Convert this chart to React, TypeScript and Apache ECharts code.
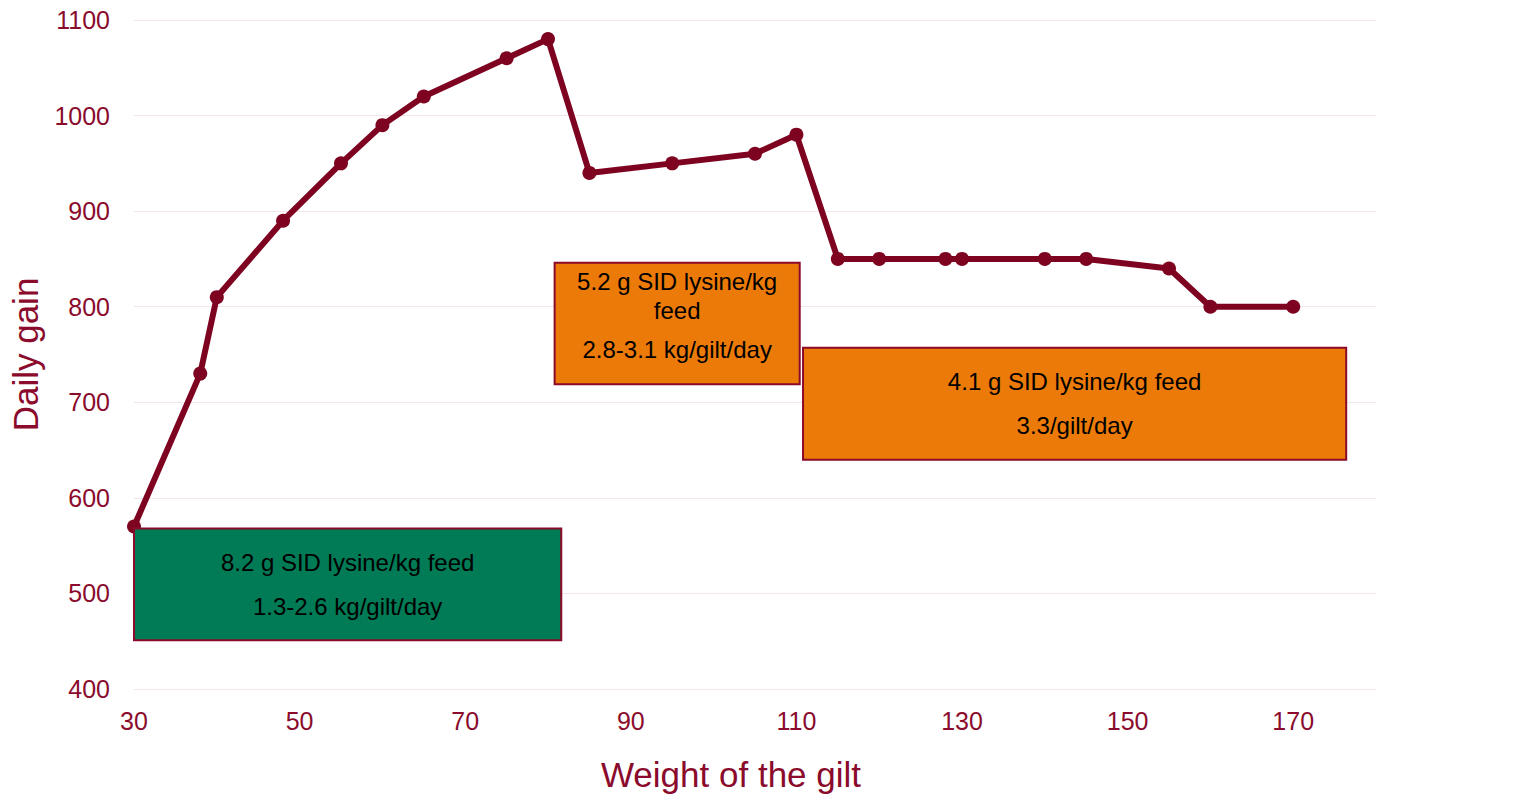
import * as echarts from 'echarts';
import { useEffect, useRef } from 'react';

// gilt weight (kg) and daily gain (g/day)
const weights = [30, 38, 40, 48, 55, 60, 65, 75, 80, 85, 95, 105, 110, 115, 120, 128, 130, 140, 145, 155, 160, 170];
const gains = [570, 730, 810, 890, 950, 990, 1020, 1060, 1080, 940, 950, 960, 980, 850, 850, 850, 850, 850, 850, 840, 800, 800];

// feeding phases drawn as boxes (data units)
const zoneWeights = [
  [29.6, 81.6],
  [80.8, 110.4],
  [110.8, 176.4]
];
const zoneGains = [
  [451, 568],
  [719, 846],
  [640, 757]
];
const zoneLysine = [['8.2 g SID lysine/kg feed'], ['5.2 g SID lysine/kg', 'feed'], ['4.1 g SID lysine/kg feed']];
const zoneIntake = ['1.3-2.6 kg/gilt/day', '2.8-3.1 kg/gilt/day', '3.3/gilt/day'];

const xTickLabels = [30, 50, 70, 90, 110, 130, 150, 170];

const WINE = '#7E0321';
const LABEL = '#8A0B2C';
const GRID = '#F4E5EA';
const FONT = '"Liberation Sans", Arial, sans-serif';
const zoneFills = ['#017B55', '#EC7A09', '#EC7A09'];

export default function App() {
  const elRef = useRef<HTMLDivElement | null>(null);

  useEffect(() => {
    if (!elRef.current) return;
    const chart = echarts.init(elRef.current, undefined, { renderer: 'svg' });

    const areas = zoneWeights.map((xs, i) => {
      const wrapped = zoneLysine[i].length > 1;
      const top = zoneLysine[i].map((t) => `{${wrapped ? 'a' : 'c'}|${t}}`).join('\n');
      const bottom = `{${wrapped ? 'b' : 'c'}|${zoneIntake[i]}}`;
      return [
        {
          xAxis: xs[0],
          yAxis: zoneGains[i][1],
          itemStyle: { color: zoneFills[i], borderColor: '#8B0A2A', borderWidth: 2, opacity: 1 },
          label: { offset: [0, wrapped ? -3 : 0], formatter: `${top}\n${bottom}` }
        },
        { xAxis: xs[1], yAxis: zoneGains[i][0] }
      ];
    });

    const textRich = { fontSize: 24, color: '#000', fontFamily: FONT };

    chart.setOption({
      animation: false,
      textStyle: { fontFamily: FONT },
      grid: { left: 134, right: 160, top: 20, bottom: 110, containLabel: false },
      xAxis: {
        type: 'value',
        min: 30,
        max: 180,
        interval: 10,
        name: 'Weight of the gilt',
        nameLocation: 'middle',
        nameGap: 68,
        nameTextStyle: { color: LABEL, fontSize: 35, fontFamily: FONT, padding: [0, 48, 0, 0] },
        axisLine: { lineStyle: { color: GRID, width: 1 } },
        axisTick: { show: false },
        splitLine: { show: false },
        axisLabel: {
          color: LABEL,
          fontSize: 25,
          margin: 19,
          fontFamily: FONT,
          formatter: (v: number) => (xTickLabels.includes(v) ? String(v) : '')
        }
      },
      yAxis: {
        type: 'value',
        min: 400,
        max: 1100,
        interval: 100,
        name: 'Daily gain',
        nameLocation: 'middle',
        nameGap: 90,
        nameTextStyle: { color: LABEL, fontSize: 35, fontFamily: FONT },
        axisLine: { show: false },
        axisTick: { show: false },
        splitLine: { lineStyle: { color: GRID, width: 1 } },
        axisLabel: {
          color: LABEL,
          fontSize: 25,
          margin: 24,
          fontFamily: FONT,
          formatter: (v: number) => String(v)
        }
      },
      series: [
        {
          type: 'line',
          data: weights.map((w, i) => [w, gains[i]]),
          clip: false,
          symbol: 'circle',
          symbolSize: 14,
          lineStyle: { color: WINE, width: 6 },
          itemStyle: { color: WINE },
          z: 3,
          markArea: {
            silent: true,
            z: 4,
            label: {
              show: true,
              position: 'inside',
              rich: {
                a: { ...textRich, lineHeight: 29 },
                b: { ...textRich, lineHeight: 49 },
                c: { ...textRich, lineHeight: 44 }
              }
            },
            emphasis: { disabled: true },
            data: areas
          }
        }
      ]
    });

    return () => chart.dispose();
  }, []);

  return (
    <div
      ref={elRef}
      style={{ position: 'fixed', left: 0, top: 0, width: 1536, height: 799, background: '#fff' }}
    />
  );
}
